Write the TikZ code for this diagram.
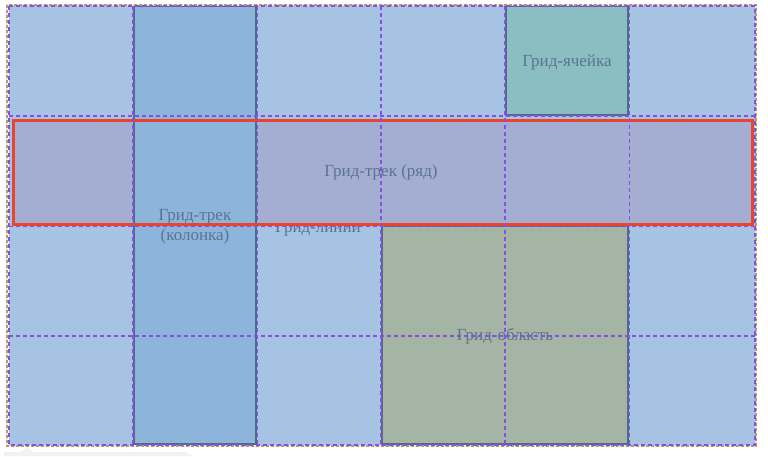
\documentclass[tikz,border=0pt]{standalone}
\usepackage{fontspec}
\setmainfont{Liberation Serif}
\definecolor{cellblue}{HTML}{A6C3E3}
\definecolor{coltrack}{HTML}{8DB5DC}
\definecolor{rowtrack}{HTML}{A4AED3}
\definecolor{cellteal}{HTML}{8BBEC2}
\definecolor{areagreen}{HTML}{A5B5A5}
\definecolor{labelcol}{HTML}{5B7390}
\definecolor{edgecol}{HTML}{4F6B85}
\definecolor{gridpurple}{HTML}{8A4FE0}
\definecolor{trackred}{HTML}{E8452C}
\definecolor{framekhaki}{HTML}{A89E7C}
\definecolor{framelight}{HTML}{F2EAD2}
\tikzset{
  lbl/.style={text=labelcol, font=\fontsize{17}{20}\selectfont, inner sep=0pt, align=center},
  solidedge/.style={draw=edgecol, line width=1.4pt},
  gridline/.style={draw=gridpurple, line width=1.3pt, dash pattern=on 4pt off 3pt},
}
\begin{document}
\begin{tikzpicture}[x=1pt,y=-1pt]
\useasboundingbox (0,0) rectangle (768,456);
% faint tooltip shadow
\fill[black!5] (4,456) -- (4,452) -- (21,452) -- (27,447) -- (33,452) -- (186,452) -- (192,456) -- cycle;
% outer frame
\draw[framelight, line width=2pt] (7,5) rectangle (756,446);
\draw[framekhaki, line width=2pt, dash pattern=on 3pt off 2pt] (7,5) rectangle (756,446);
% base cells
\fill[cellblue] (9,6) rectangle (755,445);
% grid cell
\fill[cellteal] (505,6) rectangle (629,116);
\draw[solidedge] (506,6.5) rectangle (628,115);
% grid area
\fill[areagreen] (381,226) rectangle (629,445);
\draw[solidedge] (382,226) rectangle (628,444);
% grid line column
\draw[solidedge] (256,226) -- (256,445);
\node[lbl] (lines) at (318,229) {Грид-линии};
% row track
\fill[rowtrack] (12,119) rectangle (753,225);
% column track
\fill[coltrack] (133,6) rectangle (257,445);
\draw[solidedge] (134,6.5) rectangle (256,444);
% red border of row track
\draw[trackred, line width=3pt] (13,120) rectangle (752,224);
% labels
\node[lbl] (cell) at (567,62) {Грид-ячейка};
\node[lbl] (row) at (381,172) {Грид-трек (ряд)};
\node[lbl] (col) at (195,227) {Грид-трек\\(колонка)};
\node[lbl] (area) at (505,336) {Грид-область};
% dashed grid lines
\foreach \gx in {133,257.5,381,505,629.5} {\draw[gridline] (\gx,6) -- (\gx,445);}
\foreach \gy in {116,226.5,336} {\draw[gridline] (9,\gy) -- (755,\gy);}
\draw[gridline] (9,6) rectangle (755,445);
\end{tikzpicture}
\end{document}
